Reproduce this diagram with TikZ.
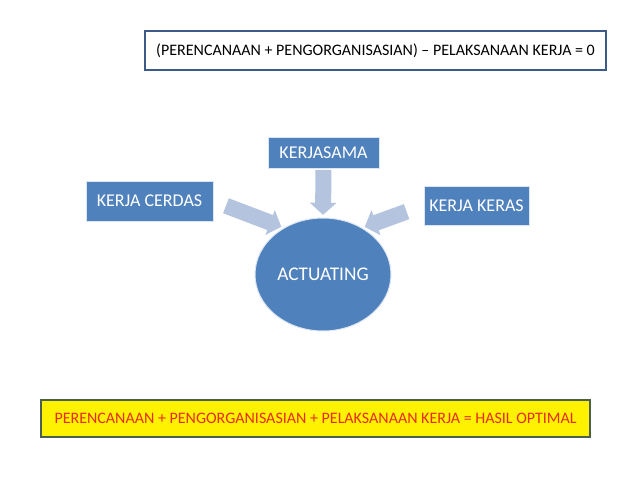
\documentclass[tikz,border=0pt]{standalone}
\usepackage{fontspec}
\setmainfont{Carlito}
\usetikzlibrary{arrows.meta,shapes.geometric}

\definecolor{birukotak}{RGB}{79,129,189}
\definecolor{birugaris}{RGB}{60,90,138}
\definecolor{birumuda}{RGB}{180,195,222}
\definecolor{hijaugaris}{RGB}{75,95,80}
\definecolor{merahteks}{RGB}{232,44,24}

\begin{document}
\begin{tikzpicture}[x=0.75pt, y=-0.75pt,
    kotak/.style={draw=white!80!birukotak, line width=0.75pt, fill=birukotak,
      text=white, font=\fontsize{13.5}{16}\selectfont, inner sep=0pt},
    rumus/.style={line width=1.1pt, inner sep=0pt, font=\fontsize{12}{14}\selectfont},
    blokpanah/.style={birumuda, line width=12pt, -{Triangle[width=19.5pt,length=9pt]}}]
  % Frame
  \useasboundingbox (0,0) rectangle (638,478);

  % Top formula
  \node[rumus, draw=birugaris, minimum width=345.75pt, minimum height=29.25pt]
    (atas) at (375.5,50.5) {(PERENCANAAN + PENGORGANISASIAN) -- PELAKSANAAN KERJA = 0};

  % Boxes around the middle
  \node[kotak, minimum width=83.25pt, minimum height=23.25pt] (kerjasama) at (323.5,152.5) {KERJASAMA};
  \node[kotak, minimum width=95.25pt, minimum height=30pt] (cerdas) at (149.5,201) {KERJA CERDAS};
  \node[kotak, minimum width=78.75pt, minimum height=29.25pt] (keras) at (476.5,205.5) {KERJA KERAS};
  \node[kotak, ellipse, font=\fontsize{14.5}{17}\selectfont, minimum width=102pt, minimum height=84.75pt]
    (actuating) at (323,274.5) {ACTUATING};

  % Block arrows
  \draw[blokpanah, shorten <=1pt, shorten >=2pt] (kerjasama.south) -- (actuating.north);
  \draw[blokpanah, shorten <=10pt, shorten >=2pt] (cerdas.east) -- (actuating.130);
  \draw[blokpanah, shorten <=13.5pt, shorten >=2pt] (keras.west) -- (actuating.50);

  % Bottom formula
  \node[rumus, draw=hijaugaris, fill=yellow, text=merahteks, minimum width=411.75pt, minimum height=27.75pt]
    (bawah) at (315.5,418.5) {PERENCANAAN + PENGORGANISASIAN + PELAKSANAAN KERJA = HASIL OPTIMAL};
\end{tikzpicture}
\end{document}
